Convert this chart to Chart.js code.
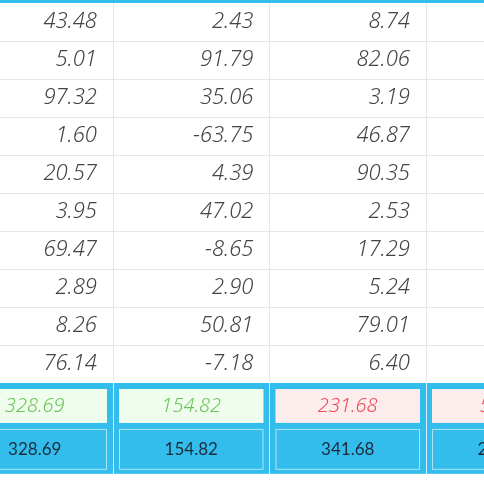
<!DOCTYPE html>
<html><head><meta charset="utf-8">
<script src="https://cdn.jsdelivr.net/npm/chart.js@4"></script>
<style>html,body{margin:0;padding:0;background:#fff;overflow:hidden}#wrap{width:484px;height:485px}</style>
</head><body><div id="wrap"><canvas id="c"></canvas></div>
<script>
// table cells, one array per column
const col1 = ['43.48', '5.01', '97.32', '1.60', '20.57', '3.95', '69.47', '2.89', '8.26', '76.14'];
const col2 = ['2.43', '91.79', '35.06', '-63.75', '4.39', '47.02', '-8.65', '2.90', '50.81', '-7.18'];
const col3 = ['8.74', '82.06', '3.19', '46.87', '90.35', '2.53', '17.29', '5.24', '79.01', '6.40'];
const col4 = ['', '', '', '', '', '', '', '', '', ''];
const columns = [col1, col2, col3, col4];
const footTop = ['328.69', '154.82', '231.68', '52.14'];
const footTopGood = [true, true, false, false];
const footBottom = ['328.69', '154.82', '341.68', '248.37'];

const BLUE = '#33bdec';

const tablePlugin = {
  id: 'table',
  afterDraw(chart) {
    const ctx = chart.ctx, x = chart.scales.x, y = chart.scales.y;
    const n = col1.length;
    const px = i => x.getPixelForValue(i);
    const py = j => y.getPixelForValue(j);
    ctx.save();
    // top border
    ctx.fillStyle = BLUE;
    ctx.fillRect(0, 0, chart.width, py(0));
    // grid
    ctx.strokeStyle = '#e6e6e6';
    ctx.lineWidth = 1;
    for (let j = 1; j <= n; j++) {
      ctx.beginPath(); ctx.moveTo(0, Math.round(py(j)) + 0.5); ctx.lineTo(chart.width, Math.round(py(j)) + 0.5); ctx.stroke();
    }
    for (let i = 1; i < columns.length; i++) {
      ctx.beginPath(); ctx.moveTo(Math.round(px(i)) + 0.5, py(0)); ctx.lineTo(Math.round(px(i)) + 0.5, py(n)); ctx.stroke();
    }
    // body text
    ctx.font = 'italic 300 22px "Noto Sans"';
    ctx.fillStyle = '#444';
    ctx.textAlign = 'right';
    ctx.textBaseline = 'middle';
    columns.forEach((col, i) => col.forEach((v, j) => {
      ctx.fillText(v, px(i + 1) - 16, py(j + 0.5));
    }));
    // footer
    const fTop = py(n), fMid = py(n + 1.13), fBot = py(n + 2.39);
    ctx.fillStyle = BLUE;
    ctx.fillRect(0, fTop, chart.width, fBot - fTop);
    ctx.fillStyle = 'rgba(255,255,255,0.8)';
    for (let i = 1; i < columns.length; i++) ctx.fillRect(Math.round(px(i)), fTop, 1, fBot - fTop);
    columns.forEach((_, i) => {
      const l = px(i) + 6, r = px(i + 1) - 6;
      ctx.fillStyle = footTopGood[i] ? '#effdec' : '#fdecec';
      ctx.fillRect(l, fTop + 6, r - l, fMid - fTop - 9);
      ctx.fillStyle = footTopGood[i] ? '#6cc35a' : '#ee4b5c';
      ctx.font = 'italic 300 20px "Noto Sans"';
      ctx.textAlign = 'center';
      ctx.fillText(footTop[i], (l + r) / 2, (fTop + 6 + fMid - 3) / 2);
      ctx.strokeStyle = 'rgba(255,255,255,0.6)';
      ctx.strokeRect(l + 0.5, fMid + 3.5, r - l - 1, fBot - fMid - 8);
      ctx.fillStyle = '#1d2b3a';
      ctx.font = '17px Lato';
      ctx.fillText(footBottom[i], (l + r) / 2, (fMid + fBot) / 2);
    });
    ctx.restore();
  }
};

new Chart(document.getElementById('c'), {
  type: 'scatter',
  data: { datasets: [{ data: [] }] },
  options: {
    responsive: true, maintainAspectRatio: false, animation: false,
    layout: { padding: 0 },
    plugins: { legend: { display: false }, tooltip: { enabled: false } },
    scales: {
      x: { type: 'linear', display: false, min: 0.278, max: 0.278 + 484 / 156.5 },
      y: { type: 'linear', display: false, reverse: true, min: -3 / 38, max: -3 / 38 + 485 / 38 }
    }
  },
  plugins: [tablePlugin]
});
</script></body></html>
